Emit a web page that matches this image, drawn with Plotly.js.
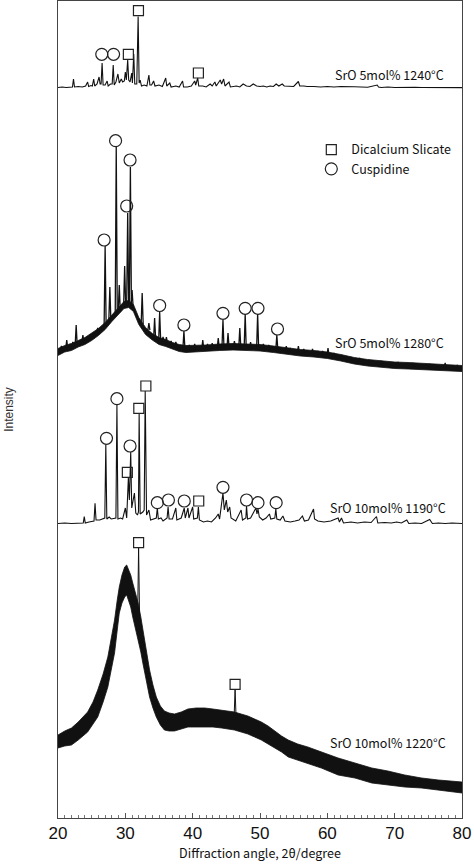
<!DOCTYPE html>
<html>
<head>
<meta charset="utf-8">
<script src="https://cdn.plot.ly/plotly-3.0.1.min.js"></script>
<style>html,body{margin:0;padding:0;background:#fff;}#chart{width:474px;height:866px;}</style>
</head>
<body>
<div id="chart"></div>
<script>
// ---- Data (2θ in degrees, intensity in arbitrary stacked units) ----
// SrO 5mol% 1240°C
const twoTheta1 = [20.0,20.6,21.2,21.8,22.15,22.3,22.45,23.0,23.6,24.1,24.4,24.55,24.9,25.1,25.3,25.45,25.8,26.1,26.25,26.4,26.55,26.7,27.0,27.3,27.45,27.8,28.05,28.2,28.35,28.6,28.9,29.1,29.4,29.6,29.85,30.0,30.15,30.35,30.5,30.7,30.95,31.05,31.25,31.4,31.7,31.9,32.05,32.2,32.4,32.8,33.2,33.5,33.65,33.9,34.2,34.4,35.0,35.5,36.0,36.15,36.6,36.8,37.5,38.0,38.5,38.65,39.2,39.8,40.3,40.45,40.75,40.9,41.5,42.0,42.6,42.9,43.3,43.5,44.1,44.3,44.6,44.8,45.4,45.6,46.0,46.5,47.0,47.5,48.0,48.5,49.0,49.5,50.0,50.5,51.0,51.5,52.0,52.4,52.8,53.3,53.6,54.5,55.0,55.7,55.9,56.5,57.0,58.0,59.0,60.0,61.0,62.0,63.0,64.0,65.0,66.0,67.4,67.6,68.0,69.0,70.0,71.0,72.0,73.0,74.0,75.0,76.0,77.0,78.0,79.0,80.0];
const intensity1 = [730.5,731,730.5,731,731,739,731,731.5,731,732,736,731.5,732.5,732,739,732,734,741,734,734,755,733,733,737,732,734,734,753,733,736,744,735,739,736,737,746,738,758,738,736,745,735,764,734,734,801.5,735,738,732,733,732,743,733,733,737,732,733,731.5,740,732,735,731,732,731,737,731,731,732,737,733,740,732,732,731,734,732,736,732,738,734,739,732,736,731,731.5,732,731,734,732,731.5,734,732,731.5,732,731,732,731.5,734,732,734,732,731.5,731.5,736.5,732,732,731.5,731.5,731,731.5,731,731.5,731,731.2,731,730.8,733,731,730.5,731,730.5,730.7,730.5,730.7,730.5,730.4,730.5,730.4,730.5,730.3,730.4];

// SrO 5mol% 1280°C : noisy background band + diffraction peaks
const bandTheta2 = [20,21,22,23,24,25,26,27,28,29,29.8,30.5,31.2,32,33,34,35,36,37,38,39,40,42,44,46,48,50,52,54,56,58,60,62,64,66,68,70,72,74,76,78,80];
const bandHigh2 = [469.5,472.5,474.5,477.5,480.5,485,489.5,495.5,503.5,510.5,516.5,517.5,513.5,500.5,490.5,484.5,480.5,478.5,475.5,473.5,472.5,472.5,473,474,474.5,474,473.5,472,470,468.5,467.5,466,463.5,460.5,458.5,457,456,455.5,454.8,454.2,453.5,452.5];
const bandLow2 = [462.5,466,467.5,471,473.5,477.5,482.5,488.5,496.5,503.5,509.5,510.5,506.5,493.5,483.5,478,473.5,471.5,469,466.5,465.5,466,466.5,467.5,468,467.5,467,465.5,463.5,462,461,459.5,457,454,452,450.5,449.5,449,448.5,448,447.5,446.5];
const peakPos2 = [20.5,21.3,21.8,22.2,22.7,23.7,24.3,24.8,25.9,26.3,27.0,27.7,28.65,29.1,29.9,30.35,30.75,31.0,32.5,33.5,34.35,35.1,35.6,36.1,36.8,37.5,38.7,39.5,40.3,41.5,42.2,42.9,43.8,44.5,45.25,46.2,47.0,47.8,48.6,49.65,50.5,51.3,52.5,53.9,54.5,55.7,56.5,57.8,58.6,59.3,60.1,61.0,62.1,63.5,64.8,66.2,68.0,70.5,72.7,75.2,77.5,79.3];
const peakTop2 = [472,478,474,476,493,483,481,482,490,489,572,531,671,533,552,605,651,528,525,495,500,506,481,481,477,476,487,473,474,478,474,475,480,498,485,477,490,504,476,504,474,473,483,472,470,472,469,469,467,467,470,465,463,461,460,458,457,456,455,454,455,453];
const peakBase2 = [467.5,469.5,470,471.5,473,476,478,479.5,485.5,488,492,498,505,507,513,514,513,512,494,488,479.5,477,476,475,473.5,472,469.5,469,469,469,469.5,469.5,470,470.5,471,471,471,471,470.5,470,469.5,469,468.5,466.5,466.5,465.5,465,464.5,464,463.5,462.5,461.5,460,458.5,457.5,456,454,452.5,452,451,450.5,449.5];

// SrO 10mol% 1190°C
const twoTheta3 = [20.0,21.0,22.0,23.0,23.75,23.9,24.05,24.6,25.35,25.5,25.65,26.2,26.95,27.1,27.25,27.6,27.9,28.6,28.75,28.9,29.3,29.6,30.0,30.2,30.45,30.6,30.8,30.95,31.35,31.55,31.8,31.95,32.05,32.2,32.6,32.8,32.95,33.15,33.5,33.75,34.2,34.6,34.75,34.9,35.3,35.6,36.2,36.35,36.5,37.0,37.5,37.65,38.3,38.75,38.9,39.3,39.45,40.0,40.15,40.7,40.85,41.0,41.6,42.2,42.8,43.4,43.8,44.0,44.5,44.7,45.0,45.2,45.5,45.7,46.4,47.2,47.4,47.9,48.0,48.15,48.6,49.4,49.55,49.7,49.9,50.4,50.9,51.4,51.6,52.2,52.35,52.5,53.0,53.4,53.7,54.5,55.2,55.8,56.3,56.6,57.2,57.95,58.1,58.6,59.5,60.5,61.6,61.8,62.1,62.4,63.5,64.5,65.5,66.5,67.3,67.5,68.5,69.5,70.3,71.0,71.8,72.1,73.0,74.0,75.2,75.6,76.5,77.5,78.5,79.5,80.0];
const intensity3 = [294.5,295,294.5,295,295,301.3,295,296,297,314.7,298,298,300,373.5,299,301,299,300,413,299,300,299,310,300,340,318,366,310,325,305,303,306,405,304,306,308,427,303,308,298,299,300,310,299,300,297,300,311,299,299,310,298,300,310,300,310,300,311,299,300,311,298,296,297,296,300,304,299,325,308,318,306,311,300,297,308,298,300,312,299,300,310,304,309,301,298,300,304,299,300,309,299,298,302,297,296,297,298,302,297,298,309,299,297,296,297,300,296,300,295,296,295,296,295.5,301.5,295,295.5,295,296,295,298,294.5,295,294.5,298.5,294.5,295,294.5,295,294.5,294.5];

// SrO 10mol% 1220°C : broad amorphous halo (noise band) + two sharp peaks
const bandTheta4 = [20,21,22,23,24.4,25.2,25.9,26.7,27.4,27.9,28.4,28.8,29.1,29.5,29.9,30.2,30.5,30.8,31.1,31.5,31.9,32.3,32.6,33.1,33.6,34.1,34.6,35.2,35.8,36.5,37.3,38.3,39.3,40.5,41.8,43,44.3,45.3,46.2,47.2,48.2,49.2,50.2,51.2,52.2,53.2,54.2,55.6,57.1,59.1,61.6,64.1,66.6,69,71.5,74,76.5,80];
const bandHigh4 = [83,87,90,96,106,116,128,144,161,178,198,218,231,243,251,253,248,243,235,226,215,201,188,168,148,133,121,112,107,105,104,106,109,110,110,109,108,107,106,104,102,99,96,92,87,82,78,74,71,66,60,55,50,47,43,40,38,36];
const bandLow4 = [70,72,73,78,86,94,101,116,131,148,165,188,205,215,221,223,218,211,201,190,178,166,155,136,121,110,101,93,88,87,87,89,91,91,91,91,90,89,88,86,84,81,78,74,70,66,61,58,55,50,43,40,35,33,31,30,28,25];
const peakPos4 = [31.97,46.3];
const peakTop4 = [270,129];
const peakBase4 = [198,100];

// Phase identification marks
const dcsTheta = [30.45,31.95,40.85, 30.3,32.0,33.05,40.9, 31.97,46.3];
const dcsLevel = [763.7,807.3,745, 345.7,409.7,432,317, 275.3,133.7];
const cusTheta = [26.5,28.25, 26.85,28.55,30.2,30.7,35.1,38.7,44.5,47.8,49.7,52.6, 27.2,28.75,30.7,34.75,36.4,38.75,44.5,48.0,49.7,52.4];
const cusLevel = [763.7,763.7, 578,677.3,612,658,512.5,493,504.7,509.7,509.7,489, 379.7,419.3,372,315.3,318,317,330.7,318,315.3,315.3];

const sampleNames = ['SrO 5mol% 1240°C','SrO 5mol% 1280°C','SrO 10mol% 1190°C','SrO 10mol% 1220°C'];
const phaseNames = ['Dicalcium Slicate','Cuspidine'];
const xTicks = [20,30,40,50,60,70,80];

// ---- build helpers ----
function peakTrace(pos, top, base){
  const x=[], y=[];
  for(let i=0;i<pos.length;i++){
    x.push(pos[i]-0.15,pos[i],pos[i]+0.15,null);
    y.push(base[i],top[i],base[i],null);
  }
  return {x, y};
}
const ink = '#111';
const traces = [];
traces.push({x:twoTheta1, y:intensity1, mode:'lines', line:{color:ink, width:1.1}, showlegend:false, hoverinfo:'skip'});
traces.push({x:bandTheta2, y:bandLow2, mode:'lines', line:{color:ink, width:0.8}, showlegend:false, hoverinfo:'skip'});
traces.push({x:bandTheta2, y:bandHigh2, mode:'lines', fill:'tonexty', fillcolor:ink, line:{color:ink, width:0.8}, showlegend:false, hoverinfo:'skip'});
const p2 = peakTrace(peakPos2, peakTop2, peakBase2);
traces.push({x:p2.x, y:p2.y, mode:'lines', line:{color:ink, width:1.3}, showlegend:false, connectgaps:false, hoverinfo:'skip'});
traces.push({x:twoTheta3, y:intensity3, mode:'lines', line:{color:ink, width:1.1}, showlegend:false, hoverinfo:'skip'});
traces.push({x:bandTheta4, y:bandLow4, mode:'lines', line:{color:ink, width:0.8}, showlegend:false, hoverinfo:'skip'});
traces.push({x:bandTheta4, y:bandHigh4, mode:'lines', fill:'tonexty', fillcolor:ink, line:{color:ink, width:0.8}, showlegend:false, hoverinfo:'skip'});
const p4 = peakTrace(peakPos4, peakTop4, peakBase4);
traces.push({x:p4.x, y:p4.y, mode:'lines', line:{color:ink, width:1}, showlegend:false, connectgaps:false, hoverinfo:'skip'});
traces.push({x:dcsTheta, y:dcsLevel, mode:'markers', name:phaseNames[0],
  marker:{symbol:'square-open', size:10, color:'#222', line:{width:1.2}}});
traces.push({x:cusTheta, y:cusLevel, mode:'markers', name:phaseNames[1],
  marker:{symbol:'circle-open', size:12, color:'#222', line:{width:1.2}}});

const labelFont = {family:'Noto Sans CJK JP', size:12.5, color:'#111'};
const annotations = [
  {x:60.8, y:744, text:sampleNames[0]},
  {x:60.8, y:476, text:sampleNames[1]},
  {x:60.05, y:311, text:sampleNames[2]},
  {x:60.1, y:76, text:sampleNames[3]}
].map(a => Object.assign({xref:'x', yref:'y', xanchor:'left', yanchor:'middle', showarrow:false, font:labelFont}, a));

const layout = {
  width:474, height:866,
  margin:{l:58, r:12, t:1, b:48},
  paper_bgcolor:'#fff', plot_bgcolor:'#fff',
  showlegend:true,
  legend:{x:0.627, y:0.836, xanchor:'left', yanchor:'top', bgcolor:'rgba(0,0,0,0)', traceorder:'normal',
          font:{family:'Noto Sans CJK JP', size:12.5, color:'#111'}, itemwidth:30, tracegroupgap:0},
  xaxis:{range:[20,80], tickvals:xTicks, ticks:'inside', ticklen:5, tickcolor:'#555',
         showline:true, mirror:true, linecolor:'#444', linewidth:1, showgrid:false, zeroline:false,
         minor:{dtick:1, ticks:'inside', ticklen:3, tickcolor:'#777'},
         tickfont:{family:'Liberation Sans', size:17, color:'#111'},
         title:{text:'Diffraction angle, 2θ/degree', font:{family:'Noto Sans CJK JP', size:12.5, color:'#111'}, standoff:2}},
  yaxis:{range:[0,817], showticklabels:false, ticks:'', showline:true, mirror:true, linecolor:'#444', linewidth:1,
         showgrid:false, zeroline:false,
         title:{text:'Intensity', font:{family:'Liberation Sans', size:12, color:'#333'}, standoff:40}},
  annotations: annotations
};
Plotly.newPlot('chart', traces, layout, {displayModeBar:false, staticPlot:true});
</script>
</body>
</html>
